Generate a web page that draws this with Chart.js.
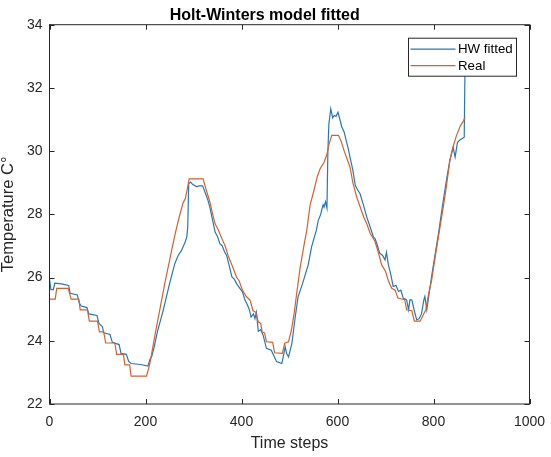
<!DOCTYPE html>
<html lang="en">
<head>
<meta charset="UTF-8">
<title>Holt-Winters model fitted</title>
<script src="https://cdn.jsdelivr.net/npm/chart.js@4.4.0/dist/chart.umd.min.js"></script>
<style>
  body { margin: 0; background: #fff; }
  #wrap { width: 551px; height: 457px; }
</style>
</head>
<body>
<div id="wrap"><canvas id="chart" width="551" height="457"></canvas></div>
<script>
// time steps / values
const realSteps = [0,12,15,39,45,61,64,79,83,100,104,113,117,136,140,154,157,167,170,202,206,210,220,240,255,262,270,278,283,287,291,320,326,334,340,345,352,360,366,372,380,390,395,402,410,418,424,430,435,440,443,448,452,465,469,485,490,498,504,510,515,522,530,536,543,550,558,564,572,578,582,588,602,608,614,620,626,632,640,648,655,661,668,678,685,692,700,706,713,720,726,740,744,755,760,772,778,784,790,796,803,813,820,827,834,840,848,856,862,866];
const realTemp = [25.32,25.32,25.66,25.66,25.32,25.32,24.98,24.98,24.62,24.62,24.28,24.28,23.93,23.93,23.57,23.57,23.24,23.24,22.88,22.88,23.1,23.35,24.2,25.8,26.9,27.4,27.9,28.35,28.5,28.8,29.12,29.12,28.8,28.4,28.0,27.7,27.5,27.2,27.0,26.7,26.4,26.0,25.9,25.6,25.4,25.28,24.95,24.9,24.6,24.55,24.28,24.25,23.97,23.95,23.62,23.6,23.92,23.97,24.34,24.9,25.5,26.3,27.0,27.5,28.3,28.7,29.2,29.45,29.65,29.9,30.2,30.5,30.5,30.3,30.0,29.75,29.5,29.0,28.55,28.2,27.9,27.7,27.4,27.15,26.8,26.4,26.2,25.9,25.66,25.6,25.35,25.3,24.98,24.95,24.62,24.62,24.8,24.98,25.5,25.9,26.6,27.55,28.2,28.9,29.7,30.1,30.5,30.8,30.95,31.07];

const hwSteps = [0,3,8,11,25,40,43,58,62,66,78,82,99,103,110,113,126,131,145,149,160,165,170,190,205,209,213,218,225,237,250,261,268,275,282,286,288,290,294,298,306,312,319,324,330,334,340,345,350,355,360,365,369,374,380,385,390,397,402,407,411,416,420,425,428,431,435,440,445,452,462,470,473,484,487,491,494,498,505,512,518,527,539,546,556,560,565,567,570,572,575,578,580,582,586,590,593,597,601,605,609,614,618,622,626,632,637,641,647,654,661,668,675,678,682,688,694,699,702,706,711,716,722,727,732,737,744,748,751,755,760,765,770,775,780,782,786,790,796,803,810,818,828,834,841,845,850,855,859,864,866];
const hwTemp = [25.95,25.62,25.62,25.82,25.8,25.75,25.5,25.45,25.2,25.1,25.05,24.85,24.8,24.55,24.45,24.25,24.2,23.95,23.88,23.6,23.57,23.35,23.28,23.25,23.2,23.4,23.5,23.8,24.3,24.97,25.8,26.44,26.7,26.86,27.1,27.28,27.6,28.97,29.02,28.95,28.88,28.9,28.9,28.7,28.45,28.23,27.8,27.44,27.3,27.07,27.0,26.8,26.7,26.4,26.02,25.95,25.8,25.65,25.55,25.3,25.18,25.0,24.75,24.85,24.7,24.9,24.3,24.35,24.18,23.76,23.7,23.44,23.34,23.28,23.5,23.81,23.6,23.49,23.92,24.76,25.4,25.8,26.4,26.97,27.5,27.81,28.0,28.13,28.3,28.23,28.4,28.2,30.0,30.86,31.34,31.05,31.13,31.1,31.23,31.0,30.76,30.6,30.34,30.1,29.81,29.4,28.92,28.8,28.65,28.3,27.91,27.6,27.28,27.24,27.07,26.77,26.7,26.56,26.8,26.4,26.1,25.72,25.75,25.56,25.6,25.35,25.29,24.98,25.3,25.29,24.95,24.66,24.7,24.85,25.3,25.4,24.98,25.4,26.03,26.7,27.35,28.2,29.18,29.7,30.12,29.81,30.28,30.35,30.39,30.44,33.2];

const xTicks = [0, 200, 400, 600, 800, 1000];
const yTicks = [22, 24, 26, 28, 30, 32, 34];

const blue = '#2677b9';
const orange = '#d8602d';
const axisColor = '#262626';
const fontFam = '"Liberation Sans", Arial, sans-serif';

function toPoints(xs, ys) {
  return xs.map((x, i) => ({ x: x, y: ys[i] }));
}

// box round the axes with inward ticks, matlab style
const boxPlugin = {
  id: 'box',
  afterDatasetsDraw(chart) {
    const { ctx, chartArea: a, scales } = chart;
    const len = 5;
    ctx.save();
    ctx.strokeStyle = axisColor;
    ctx.lineWidth = 1;
    ctx.strokeRect(a.left, a.top, a.right - a.left, a.bottom - a.top);
    ctx.beginPath();
    xTicks.forEach(v => {
      const px = Math.round(scales.x.getPixelForValue(v)) + 0.5;
      ctx.moveTo(px, a.bottom); ctx.lineTo(px, a.bottom - len);
      ctx.moveTo(px, a.top); ctx.lineTo(px, a.top + len);
    });
    yTicks.forEach(v => {
      const py = Math.round(scales.y.getPixelForValue(v)) + 0.5;
      ctx.moveTo(a.left, py); ctx.lineTo(a.left + len, py);
      ctx.moveTo(a.right, py); ctx.lineTo(a.right - len, py);
    });
    ctx.stroke();
    ctx.restore();
  }
};

// legend box in the upper right corner of the plot
const legendBox = {
  id: 'legendBox',
  afterDatasetsDraw(chart) {
    const { ctx, chartArea: a } = chart;
    const w = 108, h = 38;
    const x = a.right - 13 - w, y = a.top + 13.5;
    ctx.save();
    ctx.fillStyle = '#fff';
    ctx.fillRect(x, y, w, h);
    ctx.strokeStyle = axisColor;
    ctx.lineWidth = 1;
    ctx.strokeRect(x, y, w, h);
    ctx.font = '13.3px ' + fontFam;
    ctx.textBaseline = 'middle';
    ctx.fillStyle = '#000';
    chart.data.datasets.forEach((ds, i) => {
      const ly = y + 11 + i * 16.5;
      ctx.strokeStyle = ds.borderColor;
      ctx.lineWidth = 1.2;
      ctx.beginPath();
      ctx.moveTo(x + 2, ly); ctx.lineTo(x + 47, ly);
      ctx.stroke();
      ctx.fillText(ds.label, x + 49.5, ly + 0.5);
    });
    ctx.restore();
  }
};

new Chart(document.getElementById('chart'), {
  type: 'line',
  data: {
    datasets: [
      { label: 'HW fitted', data: toPoints(hwSteps, hwTemp), borderColor: blue, borderWidth: 1.2, pointRadius: 0, order: 2 },
      { label: 'Real', data: toPoints(realSteps, realTemp), borderColor: orange, borderWidth: 1.2, pointRadius: 0, order: 1 }
    ]
  },
  options: {
    responsive: false,
    animation: false,
    layout: { padding: { left: 0, right: 21.5, top: 0, bottom: 0 } },
    plugins: {
      legend: { display: false },
      tooltip: { enabled: false },
      title: {
        display: true,
        text: 'Holt-Winters model fitted',
        color: '#000',
        font: { family: fontFam, size: 16, weight: 'bold', lineHeight: 1.2 },
        padding: { top: 5.5, bottom: 0 }
      }
    },
    scales: {
      x: {
        type: 'linear',
        min: 0, max: 1000,
        afterBuildTicks: s => { s.ticks = xTicks.map(v => ({ value: v })); },
        afterFit: s => { s.height = 53; s.paddingLeft = 0; s.paddingRight = 0; },
        grid: { display: false, drawTicks: false },
        border: { display: false },
        ticks: { color: axisColor, padding: 9.5, font: { family: fontFam, size: 14 }, callback: v => String(v) },
        title: { display: true, text: 'Time steps', color: axisColor, font: { family: fontFam, size: 16, lineHeight: 1.2 }, padding: { top: 0, bottom: 4 } }
      },
      y: {
        min: 22, max: 34,
        afterBuildTicks: s => { s.ticks = yTicks.map(v => ({ value: v })); },
        afterFit: s => { s.width = 49.5; s.paddingTop = 0; s.paddingBottom = 0; },
        grid: { display: false, drawTicks: false },
        border: { display: false },
        ticks: { color: axisColor, padding: 7, font: { family: fontFam, size: 14 }, callback: v => String(v) },
        title: { display: true, text: 'Temperature C°', color: axisColor, font: { family: fontFam, size: 16.5, lineHeight: 1 }, padding: { top: 0, bottom: 0 } }
      }
    }
  },
  plugins: [boxPlugin, legendBox]
});
</script>
</body>
</html>
